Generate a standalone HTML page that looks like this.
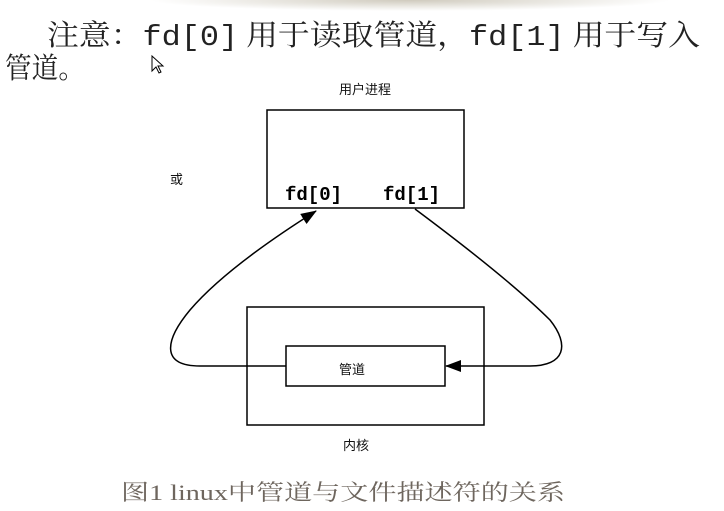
<!DOCTYPE html>
<html><head><meta charset="utf-8"><style>
html,body{margin:0;padding:0;background:#fff;}
svg{display:block;}
</style></head><body>
<svg width="724" height="511" viewBox="0 0 724 511" xmlns="http://www.w3.org/2000/svg">
<defs>
<radialGradient id="g" cx="0.5" cy="0" r="0.5">
<stop offset="0" stop-color="#cfcabd"/><stop offset="1" stop-color="#ffffff"/>
</radialGradient>
<marker id="a" markerWidth="16" markerHeight="12" refX="15" refY="6" orient="auto" markerUnits="userSpaceOnUse" viewBox="0 0 16 12"><path d="M0,0 L16,6 L0,12 z" fill="#000"/></marker>
</defs>
<rect x="150" y="0" width="520" height="22" fill="url(#g)"/>
<g font-family="'Liberation Serif','Noto Serif CJK SC',serif" fill="#222" font-size="29">
<text x="47" y="45" textLength="653" lengthAdjust="spacingAndGlyphs">注意：<tspan font-family="'Liberation Mono',monospace">fd[0]</tspan> 用于读取管道，<tspan font-family="'Liberation Mono',monospace">fd[1]</tspan> 用于写入</text>
<text x="5" y="78" textLength="80" lengthAdjust="spacingAndGlyphs">管道。</text>
</g>
<path d="M152,56 l0,15 l4,-4 l3,6 l2,-1 l-3,-6 l5,0 z" fill="#fff" stroke="#000" stroke-width="1"/>
<g font-family="'Noto Sans CJK SC',sans-serif" font-size="13" fill="#111">
<text x="339" y="94">用户进程</text>
<text x="170" y="184">或</text>
<text x="339" y="374">管道</text>
<text x="343" y="450">内核</text>
</g>
<rect x="267" y="110" width="197" height="98" fill="none" stroke="#000" stroke-width="1.5"/>
<g font-family="'Liberation Mono',monospace" font-weight="bold" font-size="19" fill="#000">
<text x="285" y="200">fd[0]</text>
<text x="383" y="200">fd[1]</text>
</g>
<rect x="247" y="307" width="237" height="118" fill="none" stroke="#000" stroke-width="1.5"/>
<rect x="286" y="346" width="159" height="40" fill="none" stroke="#000" stroke-width="1.5"/>
<path d="M286,366 L200,366 C160,366 165,340 190,310 C220,275 270,240 316,211" fill="none" stroke="#000" stroke-width="1.5" marker-end="url(#a)"/>
<path d="M415,209 C470,250 520,290 550,320 C570,345 565,366 530,366 L446,366" fill="none" stroke="#000" stroke-width="1.5" marker-end="url(#a)"/>
<text x="121" y="500" font-family="'Liberation Serif','Noto Serif CJK SC',serif" font-size="22" fill="#6e665e" textLength="444" lengthAdjust="spacingAndGlyphs">图1 linux中管道与文件描述符的关系</text>
</svg>
</body></html>
